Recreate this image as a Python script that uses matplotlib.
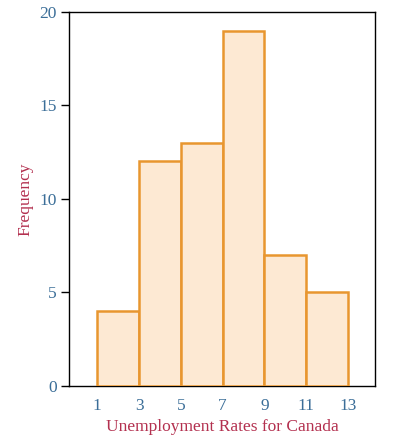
import matplotlib.pyplot as plt
import numpy as np

bin_edges = [1, 3, 5, 7, 9, 11, 13]
frequencies = [4, 12, 13, 19, 7, 5]
x_ticks = [1, 3, 5, 7, 9, 11, 13]
y_ticks = [0, 5, 10, 15, 20]

plt.rcParams["font.family"] = ["Liberation Serif", "DejaVu Serif"]

tick_color = "#3b6e98"
label_color = "#b3304f"

fig = plt.figure(figsize=(4.19, 4.38), dpi=100)
ax = fig.add_axes([0.165, 0.119, 0.73, 0.854])

widths = np.diff(bin_edges)
ax.bar(bin_edges[:-1], frequencies, width=widths, align="edge",
       color="#fde9d3", edgecolor="#e8962f", linewidth=1.8, zorder=3)

ax.set_xlim(-0.35, 14.3)
ax.set_ylim(0, 20)
ax.set_xticks(x_ticks)
ax.set_yticks(y_ticks)

for sp in ax.spines.values():
    sp.set_linewidth(1.0)
    sp.set_color("black")

ax.tick_params(axis="x", length=0, pad=9, labelsize=12.5, labelcolor=tick_color)
ax.tick_params(axis="y", length=6, width=1, pad=3, labelsize=12.5, labelcolor=tick_color)

ax.set_xlabel("Unemployment Rates for Canada", color=label_color, fontsize=12.5, labelpad=3)
ax.set_ylabel("Frequency", color=label_color, fontsize=12.5, labelpad=4)

fig.savefig("out.png", dpi=100)
